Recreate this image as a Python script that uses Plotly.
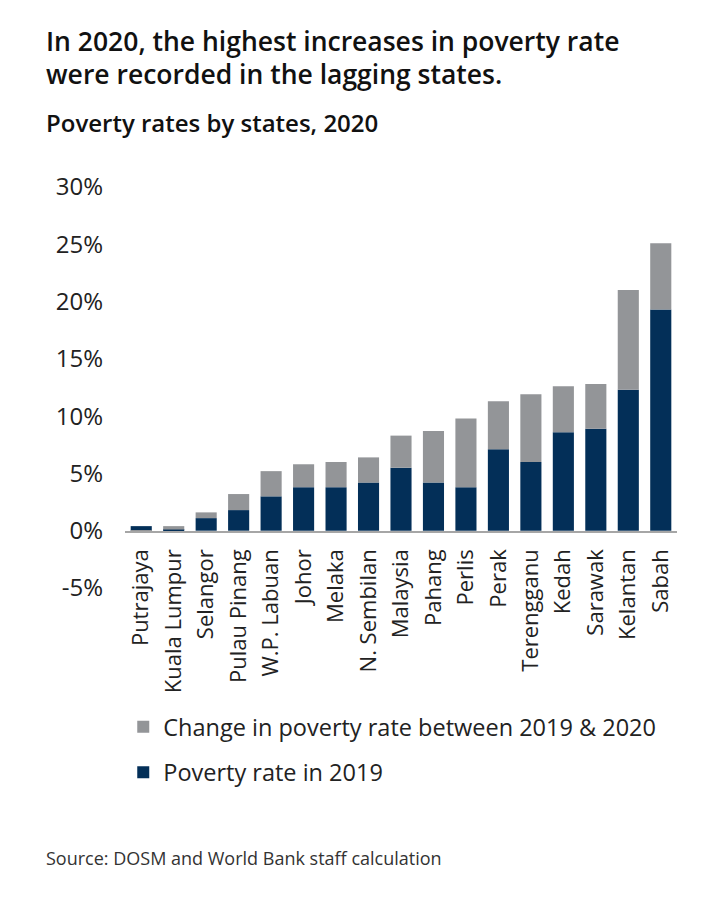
import plotly.graph_objects as go

states = ["Putrajaya", "Kuala Lumpur", "Selangor", "Pulau Pinang", "W.P. Labuan", "Johor",
          "Melaka", "N. Sembilan", "Malaysia", "Pahang", "Perlis", "Perak", "Terengganu",
          "Kedah", "Sarawak", "Kelantan", "Sabah"]
rate_2019 = [0.4, 0.1, 1.1, 1.8, 3.0, 3.8, 3.8, 4.2, 5.5, 4.2, 3.8, 7.1, 6.0, 8.6, 8.9, 12.3, 19.3]
change = [-0.1, 0.3, 0.5, 1.4, 2.2, 2.0, 2.2, 2.2, 2.8, 4.5, 6.0, 4.2, 5.9, 4.0, 3.9, 8.7, 5.8]
y_tickvals = [-5, 0, 5, 10, 15, 20, 25, 30]
y_ticktext = ["-5%", "0%", "5%", "10%", "15%", "20%", "25%", "30%"]

NAVY = "#032f58"
GRAY = "#939598"
FONT = "Open Sans"

W, H = 719, 907
L, R, T, B = 124.75, 677.25, 187, 588
pw, ph = R - L, B - T

def px(x):
    return (x - L) / pw

def py(y):
    return (B - y) / ph

fig = go.Figure()
fig.add_trace(go.Bar(x=states, y=rate_2019, name="Poverty rate in 2019",
                     marker=dict(color=NAVY, line=dict(width=0)),
                     legendgroup="b", legendrank=2))
fig.add_trace(go.Bar(x=states, y=change, name="Change in poverty rate between 2019 & 2020",
                     marker=dict(color=GRAY, line=dict(width=0)),
                     legendgroup="a", legendrank=1))

fig.update_layout(
    width=W, height=H,
    margin=dict(l=L, r=W - R, t=T, b=H - B, pad=0),
    barmode="relative", bargap=0.35,
    plot_bgcolor="white", paper_bgcolor="white",
    font=dict(family=FONT, color="#222222"),
    showlegend=True,
    legend=dict(x=px(123), y=py(705), xanchor="left", yanchor="top",
                traceorder="grouped", tracegroupgap=12,
                font=dict(size=23.5, color="#222222"), bgcolor="rgba(0,0,0,0)",
                itemsizing="constant"),
    xaxis=dict(anchor="free", position=py(531.5), showline=True, linecolor="#a6a6a6",
               linewidth=2, tickangle=-90, ticks="", tickfont=dict(size=22, color="#222222"),
               ticklabelstandoff=8, showgrid=False, zeroline=False),
    yaxis=dict(range=[-5, 30], tickvals=y_tickvals, ticktext=y_ticktext, showgrid=False,
               zeroline=False, showline=False, ticks="", ticklabelstandoff=22,
               tickfont=dict(size=24, color="#222222"), anchor="free", position=0),
    annotations=[
        dict(text="In 2020, the highest increases in poverty rate",
             xref="paper", yref="paper", x=px(44), y=py(41), xanchor="left", yanchor="middle",
             align="left", showarrow=False,
             font=dict(size=26.5, color="#111111", family=FONT, weight=600)),
        dict(text="were recorded in the lagging states.",
             xref="paper", yref="paper", x=px(44), y=py(74), xanchor="left", yanchor="middle",
             align="left", showarrow=False,
             font=dict(size=26.5, color="#111111", family=FONT, weight=600)),
        dict(text="Poverty rates by states, 2020",
             xref="paper", yref="paper", x=px(44), y=py(123), xanchor="left", yanchor="middle",
             align="left", showarrow=False,
             font=dict(size=24, color="#111111", family=FONT, weight=600)),
        dict(text="Source: DOSM and World Bank staff calculation",
             xref="paper", yref="paper", x=px(44), y=py(858), xanchor="left", yanchor="middle",
             align="left", showarrow=False,
             font=dict(size=18, color="#333333", family=FONT)),
    ],
)

fig.write_html("out.html")
